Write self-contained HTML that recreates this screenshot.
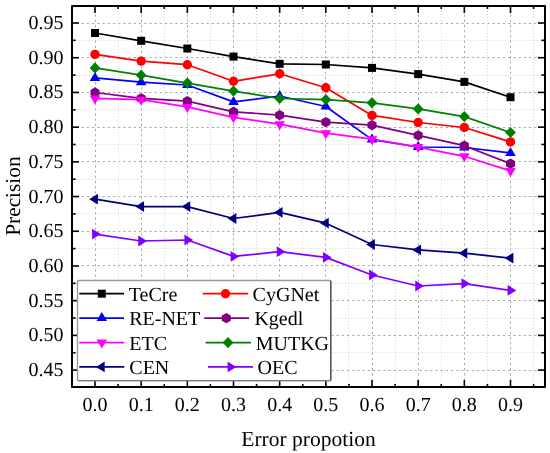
<!DOCTYPE html>
<html><head><meta charset="utf-8"><style>
html,body{margin:0;padding:0;background:#fff;width:550px;height:453px;overflow:hidden;font-family:"Liberation Serif",serif;}
svg{display:block;}
text{text-rendering:geometricPrecision;}
</style></head><body>
<svg width="550" height="453" viewBox="0 0 550 453">
<defs><filter id="gs" x="-0.05" y="-0.05" width="1.1" height="1.1"><feColorMatrix type="identity"/></filter></defs>
<rect width="550" height="453" fill="#fff"/>
<line x1="81.7" y1="370.50" x2="544.0" y2="370.50" stroke="#ababab" stroke-width="1" stroke-dasharray="2.3 2.9"/>
<line x1="73.0" y1="352.50" x2="544.0" y2="352.50" stroke="#d2d2d2" stroke-width="1" stroke-dasharray="1 2.2"/>
<line x1="81.7" y1="335.50" x2="544.0" y2="335.50" stroke="#ababab" stroke-width="1" stroke-dasharray="2.3 2.9"/>
<line x1="73.0" y1="318.50" x2="544.0" y2="318.50" stroke="#d2d2d2" stroke-width="1" stroke-dasharray="1 2.2"/>
<line x1="81.7" y1="300.50" x2="544.0" y2="300.50" stroke="#ababab" stroke-width="1" stroke-dasharray="2.3 2.9"/>
<line x1="73.0" y1="283.50" x2="544.0" y2="283.50" stroke="#d2d2d2" stroke-width="1" stroke-dasharray="1 2.2"/>
<line x1="81.7" y1="265.50" x2="544.0" y2="265.50" stroke="#ababab" stroke-width="1" stroke-dasharray="2.3 2.9"/>
<line x1="73.0" y1="248.50" x2="544.0" y2="248.50" stroke="#d2d2d2" stroke-width="1" stroke-dasharray="1 2.2"/>
<line x1="81.7" y1="231.50" x2="544.0" y2="231.50" stroke="#ababab" stroke-width="1" stroke-dasharray="2.3 2.9"/>
<line x1="73.0" y1="213.50" x2="544.0" y2="213.50" stroke="#d2d2d2" stroke-width="1" stroke-dasharray="1 2.2"/>
<line x1="81.7" y1="196.50" x2="544.0" y2="196.50" stroke="#ababab" stroke-width="1" stroke-dasharray="2.3 2.9"/>
<line x1="73.0" y1="179.50" x2="544.0" y2="179.50" stroke="#d2d2d2" stroke-width="1" stroke-dasharray="1 2.2"/>
<line x1="81.7" y1="161.50" x2="544.0" y2="161.50" stroke="#ababab" stroke-width="1" stroke-dasharray="2.3 2.9"/>
<line x1="73.0" y1="144.50" x2="544.0" y2="144.50" stroke="#d2d2d2" stroke-width="1" stroke-dasharray="1 2.2"/>
<line x1="81.7" y1="127.50" x2="544.0" y2="127.50" stroke="#ababab" stroke-width="1" stroke-dasharray="2.3 2.9"/>
<line x1="73.0" y1="109.50" x2="544.0" y2="109.50" stroke="#d2d2d2" stroke-width="1" stroke-dasharray="1 2.2"/>
<line x1="81.7" y1="92.50" x2="544.0" y2="92.50" stroke="#ababab" stroke-width="1" stroke-dasharray="2.3 2.9"/>
<line x1="73.0" y1="75.50" x2="544.0" y2="75.50" stroke="#d2d2d2" stroke-width="1" stroke-dasharray="1 2.2"/>
<line x1="81.7" y1="57.50" x2="544.0" y2="57.50" stroke="#ababab" stroke-width="1" stroke-dasharray="2.3 2.9"/>
<line x1="73.0" y1="40.50" x2="544.0" y2="40.50" stroke="#d2d2d2" stroke-width="1" stroke-dasharray="1 2.2"/>
<line x1="81.7" y1="23.50" x2="544.0" y2="23.50" stroke="#ababab" stroke-width="1" stroke-dasharray="2.3 2.9"/>
<line x1="95.50" y1="386.0" x2="95.50" y2="7.0" stroke="#ababab" stroke-width="1" stroke-dasharray="2.3 2.9"/>
<line x1="118.50" y1="386.0" x2="118.50" y2="7.0" stroke="#d2d2d2" stroke-width="1" stroke-dasharray="1 2.2"/>
<line x1="141.50" y1="386.0" x2="141.50" y2="7.0" stroke="#ababab" stroke-width="1" stroke-dasharray="2.3 2.9"/>
<line x1="164.50" y1="386.0" x2="164.50" y2="7.0" stroke="#d2d2d2" stroke-width="1" stroke-dasharray="1 2.2"/>
<line x1="187.50" y1="386.0" x2="187.50" y2="7.0" stroke="#ababab" stroke-width="1" stroke-dasharray="2.3 2.9"/>
<line x1="210.50" y1="386.0" x2="210.50" y2="7.0" stroke="#d2d2d2" stroke-width="1" stroke-dasharray="1 2.2"/>
<line x1="233.50" y1="386.0" x2="233.50" y2="7.0" stroke="#ababab" stroke-width="1" stroke-dasharray="2.3 2.9"/>
<line x1="256.50" y1="386.0" x2="256.50" y2="7.0" stroke="#d2d2d2" stroke-width="1" stroke-dasharray="1 2.2"/>
<line x1="279.50" y1="386.0" x2="279.50" y2="7.0" stroke="#ababab" stroke-width="1" stroke-dasharray="2.3 2.9"/>
<line x1="302.50" y1="386.0" x2="302.50" y2="7.0" stroke="#d2d2d2" stroke-width="1" stroke-dasharray="1 2.2"/>
<line x1="325.50" y1="386.0" x2="325.50" y2="7.0" stroke="#ababab" stroke-width="1" stroke-dasharray="2.3 2.9"/>
<line x1="348.50" y1="386.0" x2="348.50" y2="7.0" stroke="#d2d2d2" stroke-width="1" stroke-dasharray="1 2.2"/>
<line x1="372.50" y1="386.0" x2="372.50" y2="7.0" stroke="#ababab" stroke-width="1" stroke-dasharray="2.3 2.9"/>
<line x1="395.50" y1="386.0" x2="395.50" y2="7.0" stroke="#d2d2d2" stroke-width="1" stroke-dasharray="1 2.2"/>
<line x1="418.50" y1="386.0" x2="418.50" y2="7.0" stroke="#ababab" stroke-width="1" stroke-dasharray="2.3 2.9"/>
<line x1="441.50" y1="386.0" x2="441.50" y2="7.0" stroke="#d2d2d2" stroke-width="1" stroke-dasharray="1 2.2"/>
<line x1="464.50" y1="386.0" x2="464.50" y2="7.0" stroke="#ababab" stroke-width="1" stroke-dasharray="2.3 2.9"/>
<line x1="487.50" y1="386.0" x2="487.50" y2="7.0" stroke="#d2d2d2" stroke-width="1" stroke-dasharray="1 2.2"/>
<line x1="510.50" y1="386.0" x2="510.50" y2="7.0" stroke="#ababab" stroke-width="1" stroke-dasharray="2.3 2.9"/>
<line x1="533.50" y1="386.0" x2="533.50" y2="7.0" stroke="#d2d2d2" stroke-width="1" stroke-dasharray="1 2.2"/>
<g stroke="#000" stroke-width="1.6"><line x1="72" y1="370.10" x2="79.0" y2="370.10"/><line x1="545" y1="370.10" x2="538.0" y2="370.10"/><line x1="72" y1="352.74" x2="75.6" y2="352.74"/><line x1="545" y1="352.74" x2="541.4" y2="352.74"/><line x1="72" y1="335.39" x2="79.0" y2="335.39"/><line x1="545" y1="335.39" x2="538.0" y2="335.39"/><line x1="72" y1="318.03" x2="75.6" y2="318.03"/><line x1="545" y1="318.03" x2="541.4" y2="318.03"/><line x1="72" y1="300.68" x2="79.0" y2="300.68"/><line x1="545" y1="300.68" x2="538.0" y2="300.68"/><line x1="72" y1="283.33" x2="75.6" y2="283.33"/><line x1="545" y1="283.33" x2="541.4" y2="283.33"/><line x1="72" y1="265.97" x2="79.0" y2="265.97"/><line x1="545" y1="265.97" x2="538.0" y2="265.97"/><line x1="72" y1="248.61" x2="75.6" y2="248.61"/><line x1="545" y1="248.61" x2="541.4" y2="248.61"/><line x1="72" y1="231.26" x2="79.0" y2="231.26"/><line x1="545" y1="231.26" x2="538.0" y2="231.26"/><line x1="72" y1="213.90" x2="75.6" y2="213.90"/><line x1="545" y1="213.90" x2="541.4" y2="213.90"/><line x1="72" y1="196.55" x2="79.0" y2="196.55"/><line x1="545" y1="196.55" x2="538.0" y2="196.55"/><line x1="72" y1="179.19" x2="75.6" y2="179.19"/><line x1="545" y1="179.19" x2="541.4" y2="179.19"/><line x1="72" y1="161.84" x2="79.0" y2="161.84"/><line x1="545" y1="161.84" x2="538.0" y2="161.84"/><line x1="72" y1="144.48" x2="75.6" y2="144.48"/><line x1="545" y1="144.48" x2="541.4" y2="144.48"/><line x1="72" y1="127.13" x2="79.0" y2="127.13"/><line x1="545" y1="127.13" x2="538.0" y2="127.13"/><line x1="72" y1="109.78" x2="75.6" y2="109.78"/><line x1="545" y1="109.78" x2="541.4" y2="109.78"/><line x1="72" y1="92.42" x2="79.0" y2="92.42"/><line x1="545" y1="92.42" x2="538.0" y2="92.42"/><line x1="72" y1="75.06" x2="75.6" y2="75.06"/><line x1="545" y1="75.06" x2="541.4" y2="75.06"/><line x1="72" y1="57.71" x2="79.0" y2="57.71"/><line x1="545" y1="57.71" x2="538.0" y2="57.71"/><line x1="72" y1="40.35" x2="75.6" y2="40.35"/><line x1="545" y1="40.35" x2="541.4" y2="40.35"/><line x1="72" y1="23.00" x2="79.0" y2="23.00"/><line x1="545" y1="23.00" x2="538.0" y2="23.00"/><line x1="95.00" y1="387" x2="95.00" y2="380"/><line x1="95.00" y1="6" x2="95.00" y2="13"/><line x1="118.08" y1="387" x2="118.08" y2="384"/><line x1="118.08" y1="6" x2="118.08" y2="9"/><line x1="141.17" y1="387" x2="141.17" y2="380"/><line x1="141.17" y1="6" x2="141.17" y2="13"/><line x1="164.25" y1="387" x2="164.25" y2="384"/><line x1="164.25" y1="6" x2="164.25" y2="9"/><line x1="187.33" y1="387" x2="187.33" y2="380"/><line x1="187.33" y1="6" x2="187.33" y2="13"/><line x1="210.42" y1="387" x2="210.42" y2="384"/><line x1="210.42" y1="6" x2="210.42" y2="9"/><line x1="233.50" y1="387" x2="233.50" y2="380"/><line x1="233.50" y1="6" x2="233.50" y2="13"/><line x1="256.58" y1="387" x2="256.58" y2="384"/><line x1="256.58" y1="6" x2="256.58" y2="9"/><line x1="279.67" y1="387" x2="279.67" y2="380"/><line x1="279.67" y1="6" x2="279.67" y2="13"/><line x1="302.75" y1="387" x2="302.75" y2="384"/><line x1="302.75" y1="6" x2="302.75" y2="9"/><line x1="325.84" y1="387" x2="325.84" y2="380"/><line x1="325.84" y1="6" x2="325.84" y2="13"/><line x1="348.92" y1="387" x2="348.92" y2="384"/><line x1="348.92" y1="6" x2="348.92" y2="9"/><line x1="372.00" y1="387" x2="372.00" y2="380"/><line x1="372.00" y1="6" x2="372.00" y2="13"/><line x1="395.09" y1="387" x2="395.09" y2="384"/><line x1="395.09" y1="6" x2="395.09" y2="9"/><line x1="418.17" y1="387" x2="418.17" y2="380"/><line x1="418.17" y1="6" x2="418.17" y2="13"/><line x1="441.25" y1="387" x2="441.25" y2="384"/><line x1="441.25" y1="6" x2="441.25" y2="9"/><line x1="464.34" y1="387" x2="464.34" y2="380"/><line x1="464.34" y1="6" x2="464.34" y2="13"/><line x1="487.42" y1="387" x2="487.42" y2="384"/><line x1="487.42" y1="6" x2="487.42" y2="9"/><line x1="510.50" y1="387" x2="510.50" y2="380"/><line x1="510.50" y1="6" x2="510.50" y2="13"/><line x1="533.59" y1="387" x2="533.59" y2="384"/><line x1="533.59" y1="6" x2="533.59" y2="9"/></g>
<polyline points="95.00,33.00 141.17,40.80 187.33,48.50 233.50,56.60 279.67,63.80 325.84,64.50 372.00,67.90 418.17,74.10 464.34,81.90 510.50,97.20" fill="none" stroke="#000000" stroke-width="1.7" stroke-linejoin="round"/>
<polyline points="95.00,54.40 141.17,61.10 187.33,64.70 233.50,81.30 279.67,73.80 325.84,87.70 372.00,115.40 418.17,122.50 464.34,127.50 510.50,141.90" fill="none" stroke="#ff0000" stroke-width="1.7" stroke-linejoin="round"/>
<polyline points="95.00,77.90 141.17,82.20 187.33,85.00 233.50,101.90 279.67,96.00 325.84,106.50 372.00,139.60 418.17,147.00 464.34,147.50 510.50,152.90" fill="none" stroke="#0000ff" stroke-width="1.7" stroke-linejoin="round"/>
<polyline points="95.00,92.50 141.17,98.40 187.33,101.10 233.50,111.80 279.67,115.10 325.84,122.10 372.00,125.10 418.17,135.40 464.34,145.70 510.50,163.70" fill="none" stroke="#800080" stroke-width="1.7" stroke-linejoin="round"/>
<polyline points="95.00,98.40 141.17,99.70 187.33,106.90 233.50,117.30 279.67,124.20 325.84,133.20 372.00,139.20 418.17,147.10 464.34,156.30 510.50,170.90" fill="none" stroke="#ff00ff" stroke-width="1.7" stroke-linejoin="round"/>
<polyline points="95.00,67.90 141.17,75.20 187.33,83.10 233.50,91.10 279.67,98.50 325.84,99.60 372.00,102.80 418.17,108.90 464.34,116.60 510.50,132.50" fill="none" stroke="#008000" stroke-width="1.7" stroke-linejoin="round"/>
<polyline points="95.00,199.20 141.17,206.60 187.33,206.60 233.50,218.50 279.67,212.40 325.84,223.20 372.00,244.50 418.17,249.90 464.34,253.20 510.50,258.10" fill="none" stroke="#000080" stroke-width="1.7" stroke-linejoin="round"/>
<polyline points="95.00,234.10 141.17,241.00 187.33,240.00 233.50,256.40 279.67,251.70 325.84,257.40 372.00,275.00 418.17,286.00 464.34,283.60 510.50,290.40" fill="none" stroke="#8000ff" stroke-width="1.7" stroke-linejoin="round"/>
<rect x="91.00" y="29.00" width="8.00" height="8.00" fill="#000000"/><rect x="137.17" y="36.80" width="8.00" height="8.00" fill="#000000"/><rect x="183.33" y="44.50" width="8.00" height="8.00" fill="#000000"/><rect x="229.50" y="52.60" width="8.00" height="8.00" fill="#000000"/><rect x="275.67" y="59.80" width="8.00" height="8.00" fill="#000000"/><rect x="321.84" y="60.50" width="8.00" height="8.00" fill="#000000"/><rect x="368.00" y="63.90" width="8.00" height="8.00" fill="#000000"/><rect x="414.17" y="70.10" width="8.00" height="8.00" fill="#000000"/><rect x="460.34" y="77.90" width="8.00" height="8.00" fill="#000000"/><rect x="506.50" y="93.20" width="8.00" height="8.00" fill="#000000"/>
<circle cx="95.00" cy="54.40" r="4.7" fill="#ff0000"/><circle cx="141.17" cy="61.10" r="4.7" fill="#ff0000"/><circle cx="187.33" cy="64.70" r="4.7" fill="#ff0000"/><circle cx="233.50" cy="81.30" r="4.7" fill="#ff0000"/><circle cx="279.67" cy="73.80" r="4.7" fill="#ff0000"/><circle cx="325.84" cy="87.70" r="4.7" fill="#ff0000"/><circle cx="372.00" cy="115.40" r="4.7" fill="#ff0000"/><circle cx="418.17" cy="122.50" r="4.7" fill="#ff0000"/><circle cx="464.34" cy="127.50" r="4.7" fill="#ff0000"/><circle cx="510.50" cy="141.90" r="4.7" fill="#ff0000"/>
<polygon points="95.00,71.90 100.30,80.90 89.70,80.90" fill="#0000ff"/><polygon points="141.17,76.20 146.47,85.20 135.87,85.20" fill="#0000ff"/><polygon points="187.33,79.00 192.63,88.00 182.03,88.00" fill="#0000ff"/><polygon points="233.50,95.90 238.80,104.90 228.20,104.90" fill="#0000ff"/><polygon points="279.67,90.00 284.97,99.00 274.37,99.00" fill="#0000ff"/><polygon points="325.84,100.50 331.14,109.50 320.54,109.50" fill="#0000ff"/><polygon points="372.00,133.60 377.30,142.60 366.70,142.60" fill="#0000ff"/><polygon points="418.17,141.00 423.47,150.00 412.87,150.00" fill="#0000ff"/><polygon points="464.34,141.50 469.64,150.50 459.04,150.50" fill="#0000ff"/><polygon points="510.50,146.90 515.80,155.90 505.20,155.90" fill="#0000ff"/>
<polygon points="95.00,87.30 99.50,89.90 99.50,95.10 95.00,97.70 90.50,95.10 90.50,89.90" fill="#800080"/><polygon points="141.17,93.20 145.67,95.80 145.67,101.00 141.17,103.60 136.67,101.00 136.67,95.80" fill="#800080"/><polygon points="187.33,95.90 191.83,98.50 191.83,103.70 187.33,106.30 182.83,103.70 182.83,98.50" fill="#800080"/><polygon points="233.50,106.60 238.00,109.20 238.00,114.40 233.50,117.00 229.00,114.40 229.00,109.20" fill="#800080"/><polygon points="279.67,109.90 284.17,112.50 284.17,117.70 279.67,120.30 275.17,117.70 275.17,112.50" fill="#800080"/><polygon points="325.84,116.90 330.34,119.50 330.34,124.70 325.84,127.30 321.34,124.70 321.34,119.50" fill="#800080"/><polygon points="372.00,119.90 376.50,122.50 376.50,127.70 372.00,130.30 367.50,127.70 367.50,122.50" fill="#800080"/><polygon points="418.17,130.20 422.67,132.80 422.67,138.00 418.17,140.60 413.67,138.00 413.67,132.80" fill="#800080"/><polygon points="464.34,140.50 468.84,143.10 468.84,148.30 464.34,150.90 459.84,148.30 459.84,143.10" fill="#800080"/><polygon points="510.50,158.50 515.00,161.10 515.00,166.30 510.50,168.90 506.00,166.30 506.00,161.10" fill="#800080"/>
<polygon points="95.00,104.40 100.30,95.40 89.70,95.40" fill="#ff00ff"/><polygon points="141.17,105.70 146.47,96.70 135.87,96.70" fill="#ff00ff"/><polygon points="187.33,112.90 192.63,103.90 182.03,103.90" fill="#ff00ff"/><polygon points="233.50,123.30 238.80,114.30 228.20,114.30" fill="#ff00ff"/><polygon points="279.67,130.20 284.97,121.20 274.37,121.20" fill="#ff00ff"/><polygon points="325.84,139.20 331.14,130.20 320.54,130.20" fill="#ff00ff"/><polygon points="372.00,145.20 377.30,136.20 366.70,136.20" fill="#ff00ff"/><polygon points="418.17,153.10 423.47,144.10 412.87,144.10" fill="#ff00ff"/><polygon points="464.34,162.30 469.64,153.30 459.04,153.30" fill="#ff00ff"/><polygon points="510.50,176.90 515.80,167.90 505.20,167.90" fill="#ff00ff"/>
<polygon points="95.00,62.30 100.40,67.90 95.00,73.50 89.60,67.90" fill="#008000"/><polygon points="141.17,69.60 146.57,75.20 141.17,80.80 135.77,75.20" fill="#008000"/><polygon points="187.33,77.50 192.73,83.10 187.33,88.70 181.93,83.10" fill="#008000"/><polygon points="233.50,85.50 238.90,91.10 233.50,96.70 228.10,91.10" fill="#008000"/><polygon points="279.67,92.90 285.07,98.50 279.67,104.10 274.27,98.50" fill="#008000"/><polygon points="325.84,94.00 331.24,99.60 325.84,105.20 320.44,99.60" fill="#008000"/><polygon points="372.00,97.20 377.40,102.80 372.00,108.40 366.60,102.80" fill="#008000"/><polygon points="418.17,103.30 423.57,108.90 418.17,114.50 412.77,108.90" fill="#008000"/><polygon points="464.34,111.00 469.74,116.60 464.34,122.20 458.94,116.60" fill="#008000"/><polygon points="510.50,126.90 515.90,132.50 510.50,138.10 505.10,132.50" fill="#008000"/>
<polygon points="89.20,199.20 97.90,193.80 97.90,204.60" fill="#000080"/><polygon points="135.37,206.60 144.07,201.20 144.07,212.00" fill="#000080"/><polygon points="181.53,206.60 190.23,201.20 190.23,212.00" fill="#000080"/><polygon points="227.70,218.50 236.40,213.10 236.40,223.90" fill="#000080"/><polygon points="273.87,212.40 282.57,207.00 282.57,217.80" fill="#000080"/><polygon points="320.04,223.20 328.74,217.80 328.74,228.60" fill="#000080"/><polygon points="366.20,244.50 374.90,239.10 374.90,249.90" fill="#000080"/><polygon points="412.37,249.90 421.07,244.50 421.07,255.30" fill="#000080"/><polygon points="458.54,253.20 467.24,247.80 467.24,258.60" fill="#000080"/><polygon points="504.70,258.10 513.40,252.70 513.40,263.50" fill="#000080"/>
<polygon points="100.80,234.10 92.10,228.70 92.10,239.50" fill="#8000ff"/><polygon points="146.97,241.00 138.27,235.60 138.27,246.40" fill="#8000ff"/><polygon points="193.13,240.00 184.43,234.60 184.43,245.40" fill="#8000ff"/><polygon points="239.30,256.40 230.60,251.00 230.60,261.80" fill="#8000ff"/><polygon points="285.47,251.70 276.77,246.30 276.77,257.10" fill="#8000ff"/><polygon points="331.64,257.40 322.94,252.00 322.94,262.80" fill="#8000ff"/><polygon points="377.80,275.00 369.10,269.60 369.10,280.40" fill="#8000ff"/><polygon points="423.97,286.00 415.27,280.60 415.27,291.40" fill="#8000ff"/><polygon points="470.14,283.60 461.44,278.20 461.44,289.00" fill="#8000ff"/><polygon points="516.30,290.40 507.60,285.00 507.60,295.80" fill="#8000ff"/>
<rect x="72" y="6" width="473" height="381" fill="none" stroke="#000" stroke-width="2" stroke-linejoin="round"/>
<rect x="77.5" y="280.5" width="253.3" height="100.1" fill="#fff" stroke="#999" stroke-width="1.3" rx="1"/>
<line x1="330.8" y1="280.8" x2="330.8" y2="380.6" stroke="#444" stroke-width="1.2"/>
<line x1="78" y1="380.6" x2="331.2" y2="380.6" stroke="#777" stroke-width="1.2"/>
<line x1="79.3" y1="293.70" x2="124.0" y2="293.70" stroke="#000000" stroke-width="1.8"/>
<rect x="97.80" y="289.70" width="8.00" height="8.00" fill="#000000"/>
<line x1="79.3" y1="318.10" x2="124.0" y2="318.10" stroke="#0000ff" stroke-width="1.8"/>
<polygon points="101.80,312.10 107.10,321.10 96.50,321.10" fill="#0000ff"/>
<line x1="79.3" y1="342.60" x2="124.3" y2="342.60" stroke="#ff00ff" stroke-width="1.8"/>
<polygon points="101.80,348.60 107.10,339.60 96.50,339.60" fill="#ff00ff"/>
<line x1="79.3" y1="366.90" x2="124.3" y2="366.90" stroke="#000080" stroke-width="1.8"/>
<polygon points="96.00,366.90 104.70,361.50 104.70,372.30" fill="#000080"/>
<line x1="202.8" y1="293.70" x2="248.2" y2="293.70" stroke="#ff0000" stroke-width="1.8"/>
<circle cx="225.50" cy="293.70" r="4.7" fill="#ff0000"/>
<line x1="204.2" y1="318.10" x2="249.0" y2="318.10" stroke="#800080" stroke-width="1.8"/>
<polygon points="226.30,312.90 230.80,315.50 230.80,320.70 226.30,323.30 221.80,320.70 221.80,315.50" fill="#800080"/>
<line x1="205.6" y1="342.60" x2="251.0" y2="342.60" stroke="#008000" stroke-width="1.8"/>
<polygon points="228.00,337.00 233.40,342.60 228.00,348.20 222.60,342.60" fill="#008000"/>
<line x1="208.0" y1="366.90" x2="253.0" y2="366.90" stroke="#8000ff" stroke-width="1.8"/>
<polygon points="236.30,366.90 227.60,361.50 227.60,372.30" fill="#8000ff"/>
<g filter="url(#gs)" font-family="Liberation Serif" font-size="20" fill="#000"><text x="128.8" y="300.60">TeCre</text><text x="129.2" y="325.00">RE-NET</text><text x="129.3" y="349.50">ETC</text><text x="129.3" y="373.80">CEN</text><text x="252.6" y="300.60">CyGNet</text><text x="254.4" y="325.00">Kgedl</text><text x="255.7" y="349.50">MUTKG</text><text x="257.5" y="373.80">OEC</text></g>
<g filter="url(#gs)" font-family="Liberation Serif" font-size="20" fill="#000"><text x="63.5" y="376.10" text-anchor="end">0.45</text><text x="63.5" y="341.39" text-anchor="end">0.50</text><text x="63.5" y="306.68" text-anchor="end">0.55</text><text x="63.5" y="271.97" text-anchor="end">0.60</text><text x="63.5" y="237.26" text-anchor="end">0.65</text><text x="63.5" y="202.55" text-anchor="end">0.70</text><text x="63.5" y="167.84" text-anchor="end">0.75</text><text x="63.5" y="133.13" text-anchor="end">0.80</text><text x="63.5" y="98.42" text-anchor="end">0.85</text><text x="63.5" y="63.71" text-anchor="end">0.90</text><text x="63.5" y="29.00" text-anchor="end">0.95</text><text x="95.00" y="411.4" text-anchor="middle">0.0</text><text x="141.17" y="411.4" text-anchor="middle">0.1</text><text x="187.33" y="411.4" text-anchor="middle">0.2</text><text x="233.50" y="411.4" text-anchor="middle">0.3</text><text x="279.67" y="411.4" text-anchor="middle">0.4</text><text x="325.84" y="411.4" text-anchor="middle">0.5</text><text x="372.00" y="411.4" text-anchor="middle">0.6</text><text x="418.17" y="411.4" text-anchor="middle">0.7</text><text x="464.34" y="411.4" text-anchor="middle">0.8</text><text x="510.50" y="411.4" text-anchor="middle">0.9</text></g>
<text filter="url(#gs)" x="308.5" y="445.6" text-anchor="middle" font-family="Liberation Serif" font-size="21.5" fill="#000">Error propotion</text>
<g filter="url(#gs)"><text transform="translate(20,196.1) rotate(-90)" text-anchor="middle" font-family="Liberation Serif" font-size="21.3" fill="#000">Precision</text></g>
</svg>
</body></html>
